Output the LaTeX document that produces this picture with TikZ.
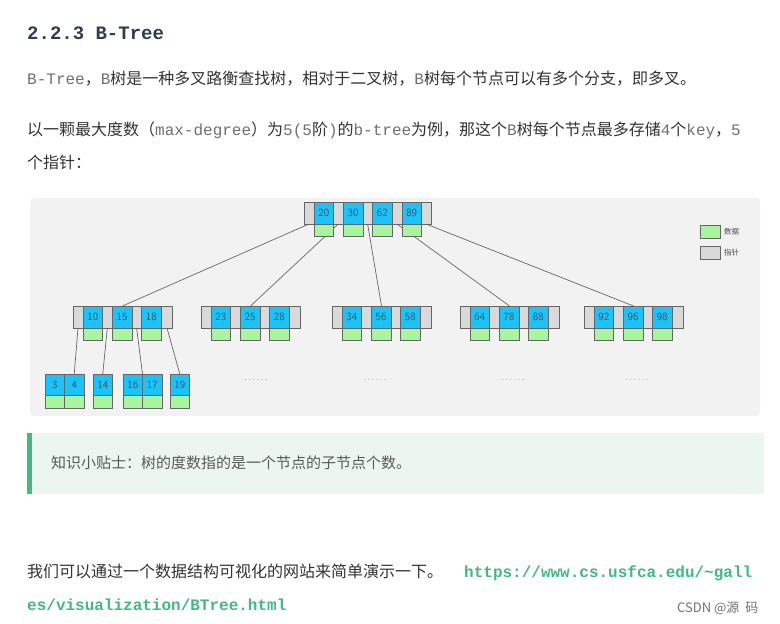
\documentclass[tikz,border=0pt]{standalone}
\usepackage{fontspec}
\usetikzlibrary{positioning,backgrounds}
\newfontfamily\cjk{Noto Sans CJK SC}
\newfontfamily\mono{Liberation Mono}
\definecolor{keyblue}{HTML}{1AC3FA}
\definecolor{datagreen}{HTML}{A8F5A0}
\definecolor{ptrgray}{HTML}{D9D9D9}
\definecolor{panelgray}{HTML}{F2F2F2}
\definecolor{headcol}{HTML}{2C3E50}
\definecolor{bodycol}{HTML}{333333}
\definecolor{codecol}{HTML}{707070}
\definecolor{tipbar}{HTML}{42B983}
\definecolor{tipfill}{HTML}{EBF6F0}
\tikzset{
  cell/.style={anchor=north west,inner sep=0pt,outer sep=0pt,draw=gray!80!black,line width=0.5pt},
  ptrbox/.style={cell,fill=ptrgray,minimum height=22pt},
  keycell/.style={cell,fill=keyblue,minimum width=19.5pt,minimum height=22pt,
    font=\sffamily\fontsize{11}{11}\selectfont,text=black!70},
  datacell/.style={cell,fill=datagreen,minimum width=19.5pt,minimum height=12.5pt},
  link/.style={draw=black!60,line width=0.7pt},
  txt/.style={anchor=base west,inner sep=0pt,text=bodycol,font=\cjk\fontsize{16}{16}\selectfont}
}
\newcommand\code[1]{{\mono\color{codecol}#1}}
% name, x, y, width, keys
\newcommand\keyrow[5]{%
  \node[ptrbox,minimum width=#4] (#1) at (#2,#3) {};
  \foreach \k [count=\i] in {#5} {
    \node[keycell] (#1-\i) at ({#2+10+(\i-1)*29.3},#3) {\k};
    \node[datacell] (#1-\i d) at (#1-\i.south west) {};
    \coordinate (#1-p\i) at ({#2+5+(\i-1)*29.3},#3+22);
  }
  \coordinate (#1-pend) at ([xshift=-5pt]#1.south east);
}
\begin{document}
\begin{tikzpicture}[x=1pt,y=-1pt]
\useasboundingbox (0,0) rectangle (780,624);

% text above
\node[txt,text=headcol,font=\mono\bfseries\fontsize{19}{19}\selectfont] (title) at (27,39) {2.2.3 B-Tree};
\node[txt] (line1) at (27,84) {\code{B-Tree}，\code{B}树是一种多叉路衡查找树，相对于二叉树，\code{B}树每个节点可以有多个分支，即多叉。};
\node[txt] (line2) at (27,135) {以一颗最大度数（\code{max-degree}）为\code{5(5}阶\code{)}的\code{b-tree}为例，那这个\code{B}树每个节点最多存储\code{4}个\code{key}，\code{5}};
\node[txt] (line3) at (27,168) {个指针：};

% tree panel
\keyrow{root}{304}{202}{127pt}{20,30,62,89}
\keyrow{n1}{73}{306}{99pt}{10,15,18}
\keyrow{n2}{201}{306}{99pt}{23,25,28}
\keyrow{n3}{332}{306}{99pt}{34,56,58}
\keyrow{n4}{460}{306}{99pt}{64,78,88}
\keyrow{n5}{584}{306}{99pt}{92,96,98}
\foreach \v/\x in {3/45,4/64.5,14/93,16/123,17/142.5,19/170} {
  \node[keycell,minimum height=21pt] (leaf\v) at (\x,374) {\v};
  \node[datacell,minimum height=13pt] (leaf\v d) at (leaf\v.south west) {};
}
\foreach \x [count=\i] in {256,375,513,637}
  \node[font=\small,text=black!60] (dots\i) at (\x,380) {.\,.\,.\,.\,.\,.};
\begin{scope}[on background layer]
  \fill[white] (0,0) rectangle (780,624);
  \fill[panelgray,rounded corners=4pt] (30,198) rectangle (760,416);
  \draw[link] (root-p1) -- (n1.north);
  \draw[link] (root-p2) -- (n2.north);
  \draw[link] (root-p3) -- (n3.north);
  \draw[link] (root-p4) -- (n4.north);
  \draw[link] (root-pend) -- (n5.north);
  \draw[link] (n1-p1) -- (leaf4.north);
  \draw[link] (n1-p2) -- (leaf14.north);
  \draw[link] (n1-p3) -- (leaf16.north east);
  \draw[link] (n1-pend) -- (leaf19.north);
\end{scope}
% legend
\node[datacell,minimum width=20pt,minimum height=13pt] (lgdata) at (700,225) {};
\node[ptrbox,minimum width=20pt,minimum height=13pt] (lgptr) at (700,246) {};
\node[right=4pt of lgdata,font=\cjk\fontsize{7.5}{7.5}\selectfont,text=black!70,inner sep=0pt] (lgdatat) {数据};
\node[right=4pt of lgptr,font=\cjk\fontsize{7.5}{7.5}\selectfont,text=black!70,inner sep=0pt] (lgptrt) {指针};

% tip box
\fill[tipfill] (27,433) rectangle (764,494);
\fill[tipbar] (27,433) rectangle (32,494);
\node[txt,text=black!65,font=\cjk\fontsize{15}{15}\selectfont] (tip) at (51,468) {知识小贴士：树的度数指的是一个节点的子节点个数。};

% bottom
\node[txt] (line4) at (27,577) {我们可以通过一个数据结构可视化的网站来简单演示一下。};
\node[txt,text=tipbar,font=\mono\bfseries\fontsize{16}{16}\selectfont] (url1) at (464,577) {https://www.cs.usfca.edu/\string~gall};
\node[txt,text=tipbar,font=\mono\bfseries\fontsize{16}{16}\selectfont] (url2) at (27,610) {es/visualization/BTree.html};
\node[txt,text=black!55,font=\cjk\fontsize{13}{13}\selectfont] (mark) at (677,612) {CSDN @源\ \ 码};
\end{tikzpicture}
\end{document}
